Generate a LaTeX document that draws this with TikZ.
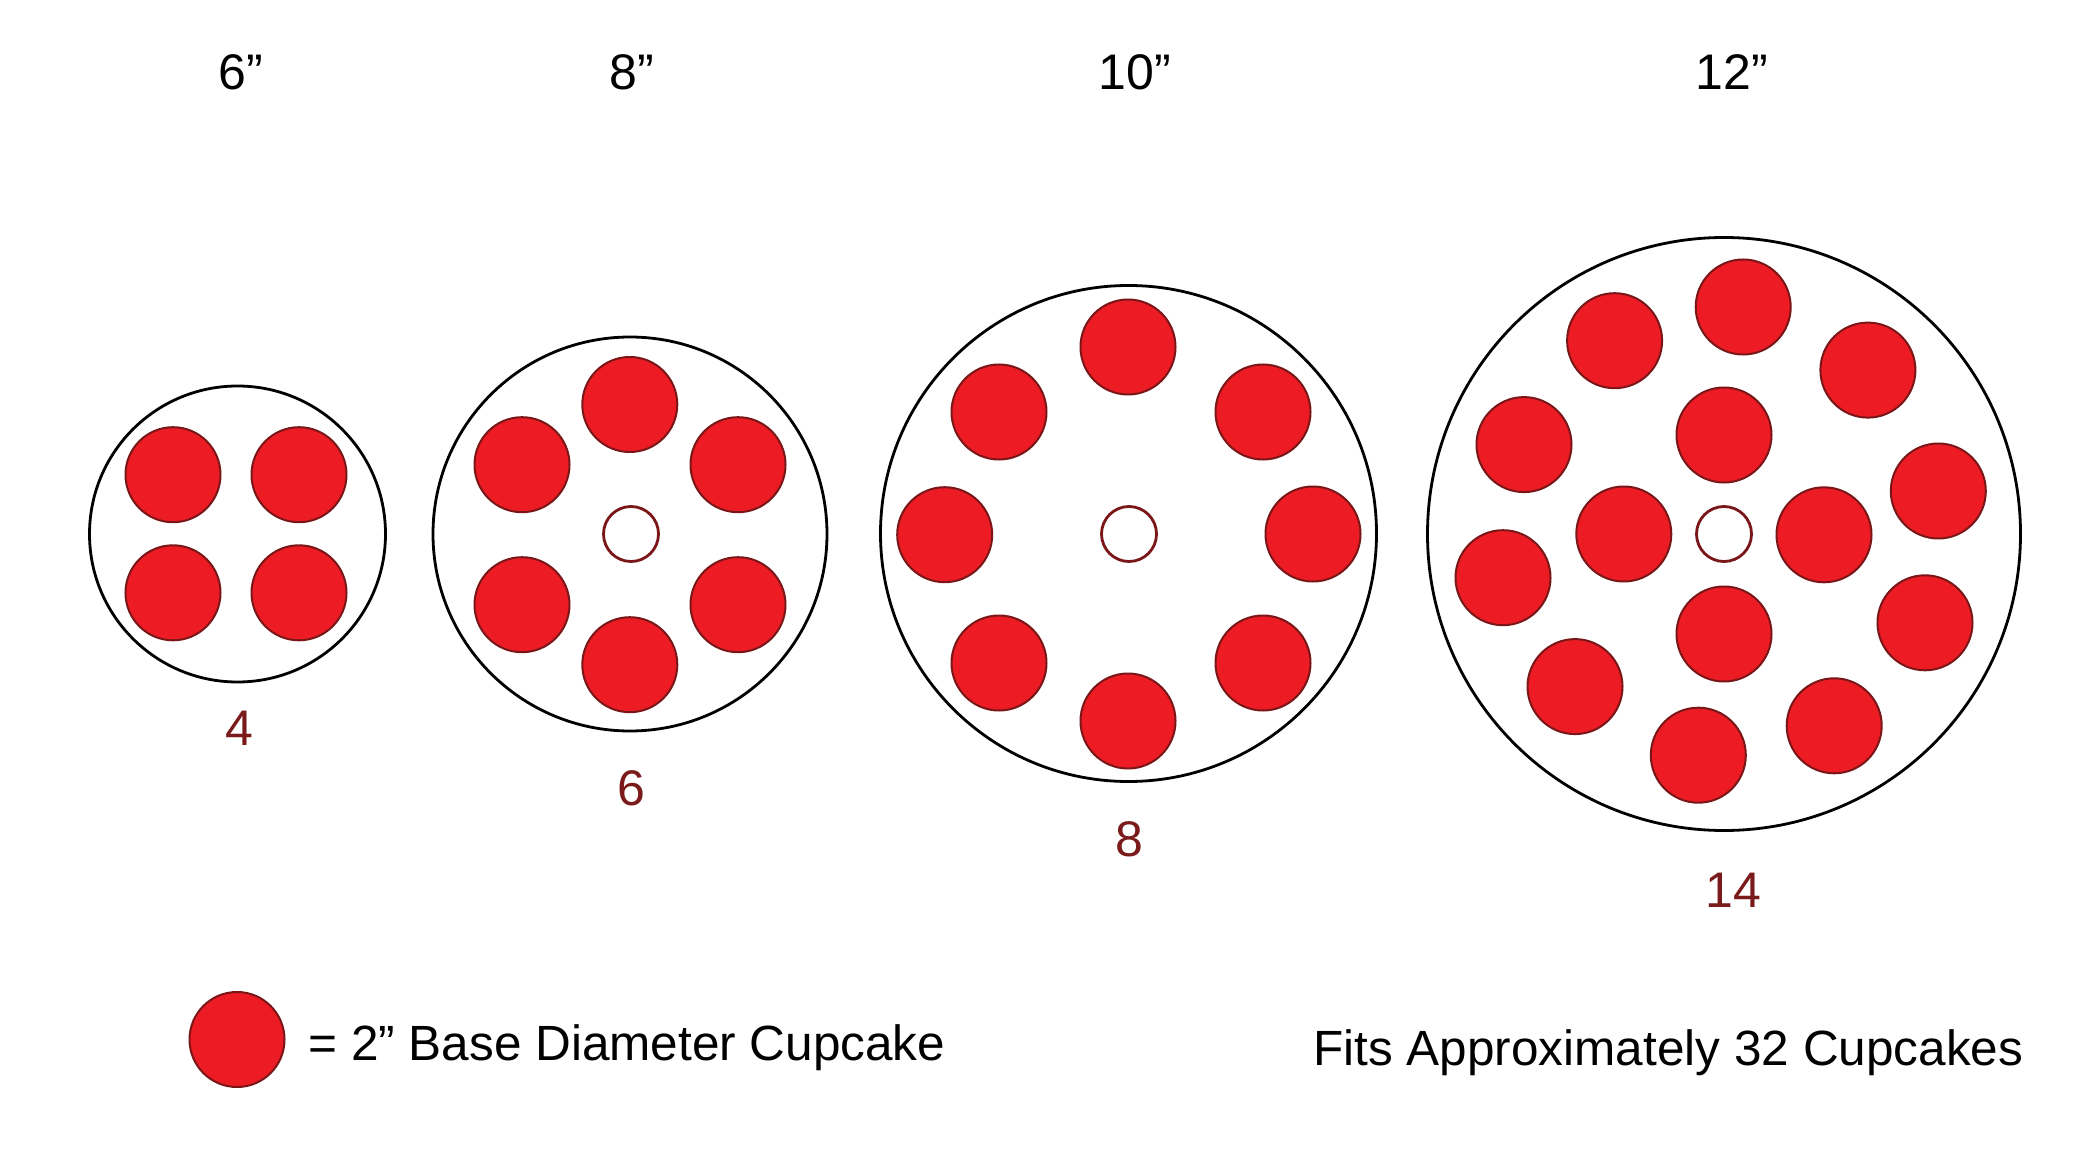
\documentclass[tikz,border=0pt]{standalone}
\usepackage{fontspec}
\setmainfont{Liberation Sans}
\definecolor{cupred}{RGB}{237,28,36}
\definecolor{cupedge}{RGB}{122,22,24}
\definecolor{numred}{RGB}{122,26,26}
\tikzset{
  cup/.style={circle, draw=cupedge, fill=cupred, line width=1pt, minimum size=47.5pt, inner sep=0pt},
  cake/.style={circle, draw=black, line width=1.4pt, inner sep=0pt},
  hole/.style={circle, draw=cupedge, line width=1.4pt, fill=white, minimum size=27.5pt, inner sep=0pt},
  title/.style={font=\fontsize{25}{30}\selectfont, anchor=base, inner sep=0pt},
  count/.style={title, text=numred},
  note/.style={font=\fontsize{24.75}{30}\selectfont, anchor=base west, inner sep=0pt},
}
\begin{document}
\begin{tikzpicture}[x=0.5pt, y=-0.5pt]
\fill[white] (0,0) rectangle (2100,1150);
\useasboundingbox (0,0) rectangle (2100,1150);

% titles
\node[title] (t6) at (241,90) {6”};
\node[title] (t8) at (632,90) {8”};
\node[title] (t10) at (1135,90) {10”};
\node[title] (t12) at (1732,90) {12”};

% 6 inch
\node[cake, minimum size=148pt] (k6) at (237.5,534) {};
\node[cup] (a1) at (173,474.7) {};
\node[cup] (a2) at (299,474.7) {};
\node[cup] (a3) at (173,592.8) {};
\node[cup] (a4) at (299,592.8) {};
\node[count] (n6) at (239,745) {4};

% 8 inch
\node[cake, minimum size=197pt] (k8) at (630,534) {};
\node[hole] (h8) at (631,534) {};
\node[cup] (b1) at (629.8,404.5) {};
\node[cup] (b2) at (522,464.7) {};
\node[cup] (b3) at (738,464.7) {};
\node[cup] (b4) at (522,604.7) {};
\node[cup] (b5) at (738,604.7) {};
\node[cup] (b6) at (629.8,664.7) {};
\node[count] (n8) at (631,805) {6};

% 10 inch
\node[cake, minimum size=248pt] (k10) at (1128.5,533.5) {};
\node[hole] (h10) at (1129,534) {};
\node[cup] (c1) at (1128,347) {};
\node[cup] (c2) at (999,412) {};
\node[cup] (c3) at (1263,412) {};
\node[cup] (c4) at (944.7,534.7) {};
\node[cup] (c5) at (1313,534) {};
\node[cup] (c6) at (999,663) {};
\node[cup] (c7) at (1128,721) {};
\node[cup] (c8) at (1263,663) {};
\node[count] (n10) at (1129,856) {8};

% 12 inch
\node[cake, minimum size=296.5pt] (k12) at (1724,534) {};
\node[hole] (h12) at (1724,534) {};
\node[cup] (d1) at (1743.2,307) {};
\node[cup] (d2) at (1614.6,340.7) {};
\node[cup] (d3) at (1867.9,370.1) {};
\node[cup] (d4) at (1524,444.6) {};
\node[cup] (d5) at (1724,435) {};
\node[cup] (d6) at (1938.3,491) {};
\node[cup] (d7) at (1623.8,534) {};
\node[cup] (d8) at (1824,534.8) {};
\node[cup] (d9) at (1503,577.7) {};
\node[cup] (d10) at (1724,634) {};
\node[cup] (d11) at (1925,622.8) {};
\node[cup] (d12) at (1575,686.6) {};
\node[cup] (d13) at (1698.3,755.2) {};
\node[cup] (d14) at (1834.2,725.8) {};
\node[count] (n12) at (1733,907) {14};

% legend
\node[cup] (lg) at (237,1039.5) {};
\node[note] (lt) at (308,1060) {= 2” Base Diameter Cupcake};
\node[note] (fit) at (1313,1065) {Fits Approximately 32 Cupcakes};
\end{tikzpicture}
\end{document}
